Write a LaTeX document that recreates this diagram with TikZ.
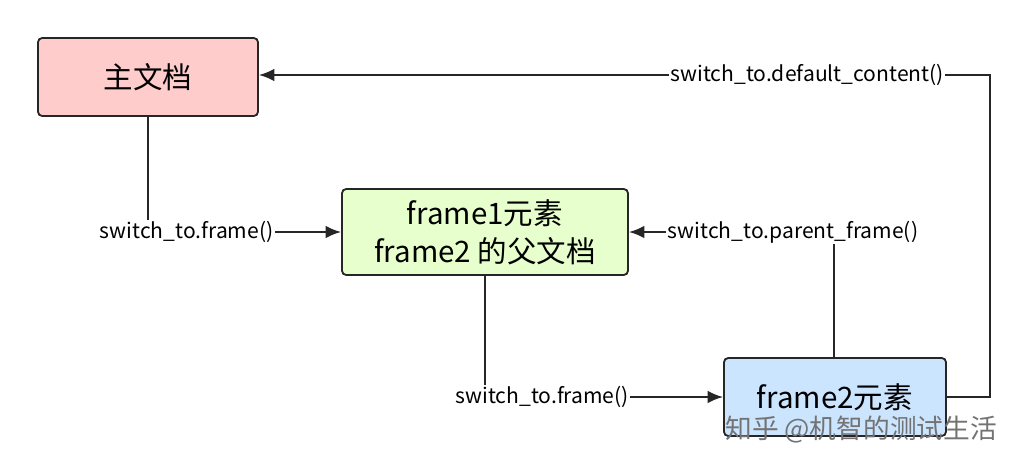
\documentclass[tikz,border=0pt]{standalone}
\usepackage{fontspec}
\setmainfont{Noto Sans CJK SC}
\usetikzlibrary{arrows.meta}
\definecolor{redf}{HTML}{FFCCCC}
\definecolor{greenf}{HTML}{E6FFCC}
\definecolor{bluef}{HTML}{CCE5FF}
\begin{document}
\begin{tikzpicture}[x=0.025cm,y=-0.025cm,
  box/.style={draw=black!85,line width=1.3pt,rounded corners=3pt,inner sep=0pt,align=center,font=\fontsize{21}{27}\selectfont},
  conn/.style={line width=1.4pt,draw=black!85,-{Latex[length=11pt,width=9pt]}},
  lab/.style={fill=white,inner sep=1pt,font=\fontsize{15}{18}\selectfont}]
\useasboundingbox (0,0) rectangle (1028,474);
\node[box,fill=redf,minimum width=220*0.025cm,minimum height=78*0.025cm] (main) at (148,77) {主文档};
\node[box,fill=greenf,minimum width=286*0.025cm,minimum height=86*0.025cm] (f1) at (485,232) {frame1元素\\frame2 的父文档};
\node[box,fill=bluef,minimum width=222*0.025cm,minimum height=78*0.025cm] (f2) at (835,397) {frame2元素};
\draw[conn] (main.south) |- (f1.west) node[lab,pos=0.6] {switch\_to.frame()};
\draw[conn] (f1.south) |- (f2.west) node[lab,pos=0.62] {switch\_to.frame()};
\coordinate (c1) at (834,233);
\draw[conn] (f2.north -| c1) |- (f1.east) node[lab,pos=0.6] {switch\_to.parent\_frame()};
\coordinate (c2) at (990,397);
\coordinate (c3) at (990,75);
\draw[conn] (f2.east) -- (c2) -- (c3) -- (main.east |- c3) node[lab,pos=0.25] {switch\_to.default\_content()};
\node[text=black!55,font=\fontsize{19}{22}\selectfont,anchor=east] (wm) at (1002,430) {知乎 @机智的测试生活};
\end{tikzpicture}
\end{document}
